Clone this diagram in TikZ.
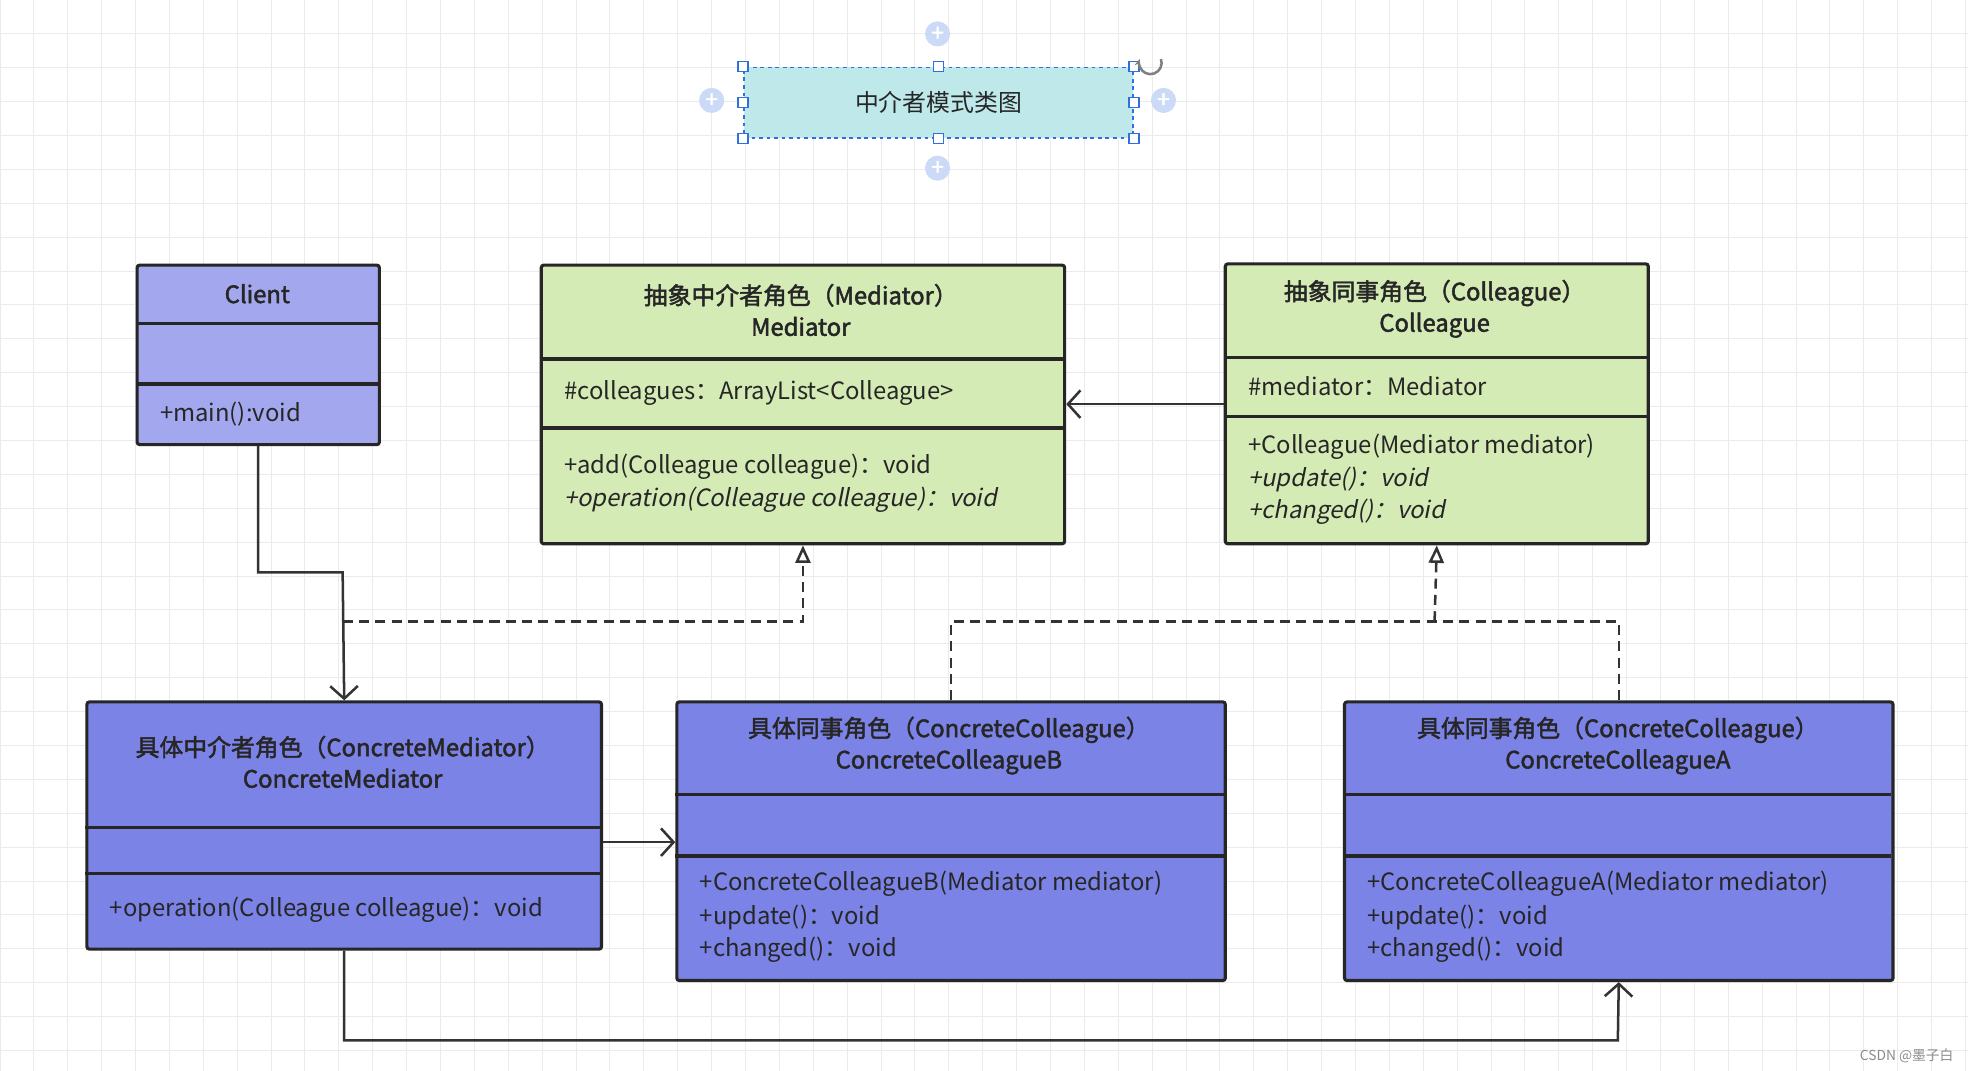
\documentclass[tikz,border=0pt]{standalone}
\usepackage{fontspec}
\setmainfont{Noto Sans CJK SC}[ItalicFont=Noto Sans CJK SC,ItalicFeatures={FakeSlant=0.2},BoldFont=Noto Sans CJK SC,BoldFeatures={FakeBold=2}]
\usetikzlibrary{arrows.meta}
\definecolor{lpur}{HTML}{A3A8EE}
\definecolor{dpur}{HTML}{7B83E6}
\definecolor{lgr}{HTML}{D5EBB5}
\definecolor{tcy}{HTML}{BEE8EA}
\definecolor{hbl}{HTML}{2F6FE0}
\tikzset{
 box/.style={draw=black!85,line width=2.5pt,rounded corners=2pt,anchor=north west,inner sep=0},
 dv/.style={draw=black!85,line width=2.5pt},
 t/.style={font=\fontsize{19}{22}\selectfont,text=black!85},
 tt/.style={font=\bfseries\fontsize{19}{25}\selectfont,text=black!85,align=center},
 ln/.style={draw=black!80,line width=2pt},
 dsh/.style={ln,dash pattern=on 8pt off 5pt},
 oa/.style={-{Straight Barb[length=10pt,width=22pt,line width=2pt]}},
 ta/.style={-{Triangle[open,length=14pt,width=12pt,line width=2pt]}},
 hd/.style={draw=hbl,fill=white,line width=1pt,minimum size=8pt,inner sep=0},
 pl/.style={circle,fill=hbl!25,minimum size=20pt,inner sep=0,text=white,font=\bfseries\fontsize{18}{18}\selectfont}
}
\begin{document}
\begin{tikzpicture}[x=1pt,y=-1pt]
\useasboundingbox (0,0) rectangle (1568,853);
\fill[white] (0,0) rectangle (1568,853);
\foreach \i in {0,27,...,1568} \draw[black!8,line width=0.8pt] (\i,0) -- (\i,853);
\foreach \j in {0,27,...,853} \draw[black!8,line width=0.8pt] (0,\j) -- (1568,\j);
% title
\node[draw=hbl,dashed,line width=1.5pt,fill=tcy,minimum width=310pt,minimum height=56pt,anchor=north west,inner sep=0] (tb) at (592,53) {};
\node[t] at (tb.center) {中介者模式类图};
\foreach \a in {north west,north,north east,east,south east,south,south west,west} \node[hd] at (tb.\a) {};
\node[pl] (p1) at (747,27) {+};
\node[pl] (p2) at (567,80) {+};
\node[pl] (p3) at (927,80) {+};
\node[pl] (p4) at (747,134) {+};
\draw[black!50,line width=2pt,-{Stealth[length=6pt]}] (925,47) arc (-20:200:9);
% Client
\node[box,fill=lpur,minimum width=193pt,minimum height=143pt] (cl) at (108,210) {};
\draw[dv] (108,258) -- (301,258) (108,306) -- (301,306);
\node[tt] at (205,234) {Client};
\node[t,anchor=west] at (124,330) {+main():void};
% Mediator
\node[box,fill=lgr,minimum width=417pt,minimum height=222pt] (me) at (430,210) {};
\draw[dv] (430,286) -- (847,286) (430,341) -- (847,341);
\node[tt] at (638,247) {抽象中介者角色（Mediator）\\Mediator};
\node[t,anchor=west] at (446,313) {\#colleagues：ArrayList<Colleague>};
\node[t,anchor=west] at (446,372) {+add(Colleague colleague)：void};
\node[t,anchor=west] at (446,398) {\itshape +operation(Colleague colleague)：void};
% Colleague
\node[box,fill=lgr,minimum width=337pt,minimum height=223pt] (co) at (975,209) {};
\draw[dv] (975,285) -- (1312,285) (975,332) -- (1312,332);
\node[tt] at (1143,246) {抽象同事角色（Colleague）\\Colleague};
\node[t,anchor=west] at (991,308) {\#mediator：Mediator};
\node[t,anchor=west] at (991,356) {+Colleague(Mediator mediator)};
\node[t,anchor=west] at (991,382) {\itshape +update()：void};
\node[t,anchor=west] at (991,408) {\itshape +changed()：void};
% ConcreteMediator
\node[box,fill=dpur,minimum width=410pt,minimum height=197pt] (cm) at (68,558) {};
\draw[dv] (68,659) -- (478,659) (68,696) -- (478,696);
\node[tt] at (273,607) {具体中介者角色（ConcreteMediator）\\ConcreteMediator};
\node[t,anchor=west] at (84,725) {+operation(Colleague colleague)：void};
% B
\node[box,fill=dpur,minimum width=437pt,minimum height=222pt] (cb) at (538,558) {};
\draw[dv] (538,633) -- (975,633) (538,682) -- (975,682);
\node[tt] at (756,594) {具体同事角色（ConcreteColleague）\\ConcreteColleagueB};
\node[t,anchor=west] at (554,704) {+ConcreteColleagueB(Mediator mediator)};
\node[t,anchor=west] at (554,731) {+update()：void};
\node[t,anchor=west] at (554,757) {+changed()：void};
% A
\node[box,fill=dpur,minimum width=437pt,minimum height=222pt] (ca) at (1070,558) {};
\draw[dv] (1070,633) -- (1507,633) (1070,682) -- (1507,682);
\node[tt] at (1289,594) {具体同事角色（ConcreteColleague）\\ConcreteColleagueA};
\node[t,anchor=west] at (1086,704) {+ConcreteColleagueA(Mediator mediator)};
\node[t,anchor=west] at (1086,731) {+update()：void};
\node[t,anchor=west] at (1086,757) {+changed()：void};
% connectors
\coordinate (j1) at (273,495);
\coordinate (j2) at (1143,495);
\draw[ln,oa] (co.west |- 0,322) -- (me.east |- 0,322);
\draw[ln,oa] (cl.south) |- (273,456) -- (cm.north);
\draw[dsh,ta] (j1) -| (me.south);
\draw[dsh] (cb.north) |- (j2) -| (ca.north);
\draw[dsh,ta] (j2) -- (co.south);
\draw[ln,oa] (cm.east |- 0,671) -- (cb.west |- 0,671);
\draw[ln,oa] (cm.south) |- (1289,829) -- (ca.south);
\node[text=black!45,font=\fontsize{11}{11}\selectfont,anchor=east] at (1560,841) {CSDN @墨子白};
\end{tikzpicture}
\end{document}
